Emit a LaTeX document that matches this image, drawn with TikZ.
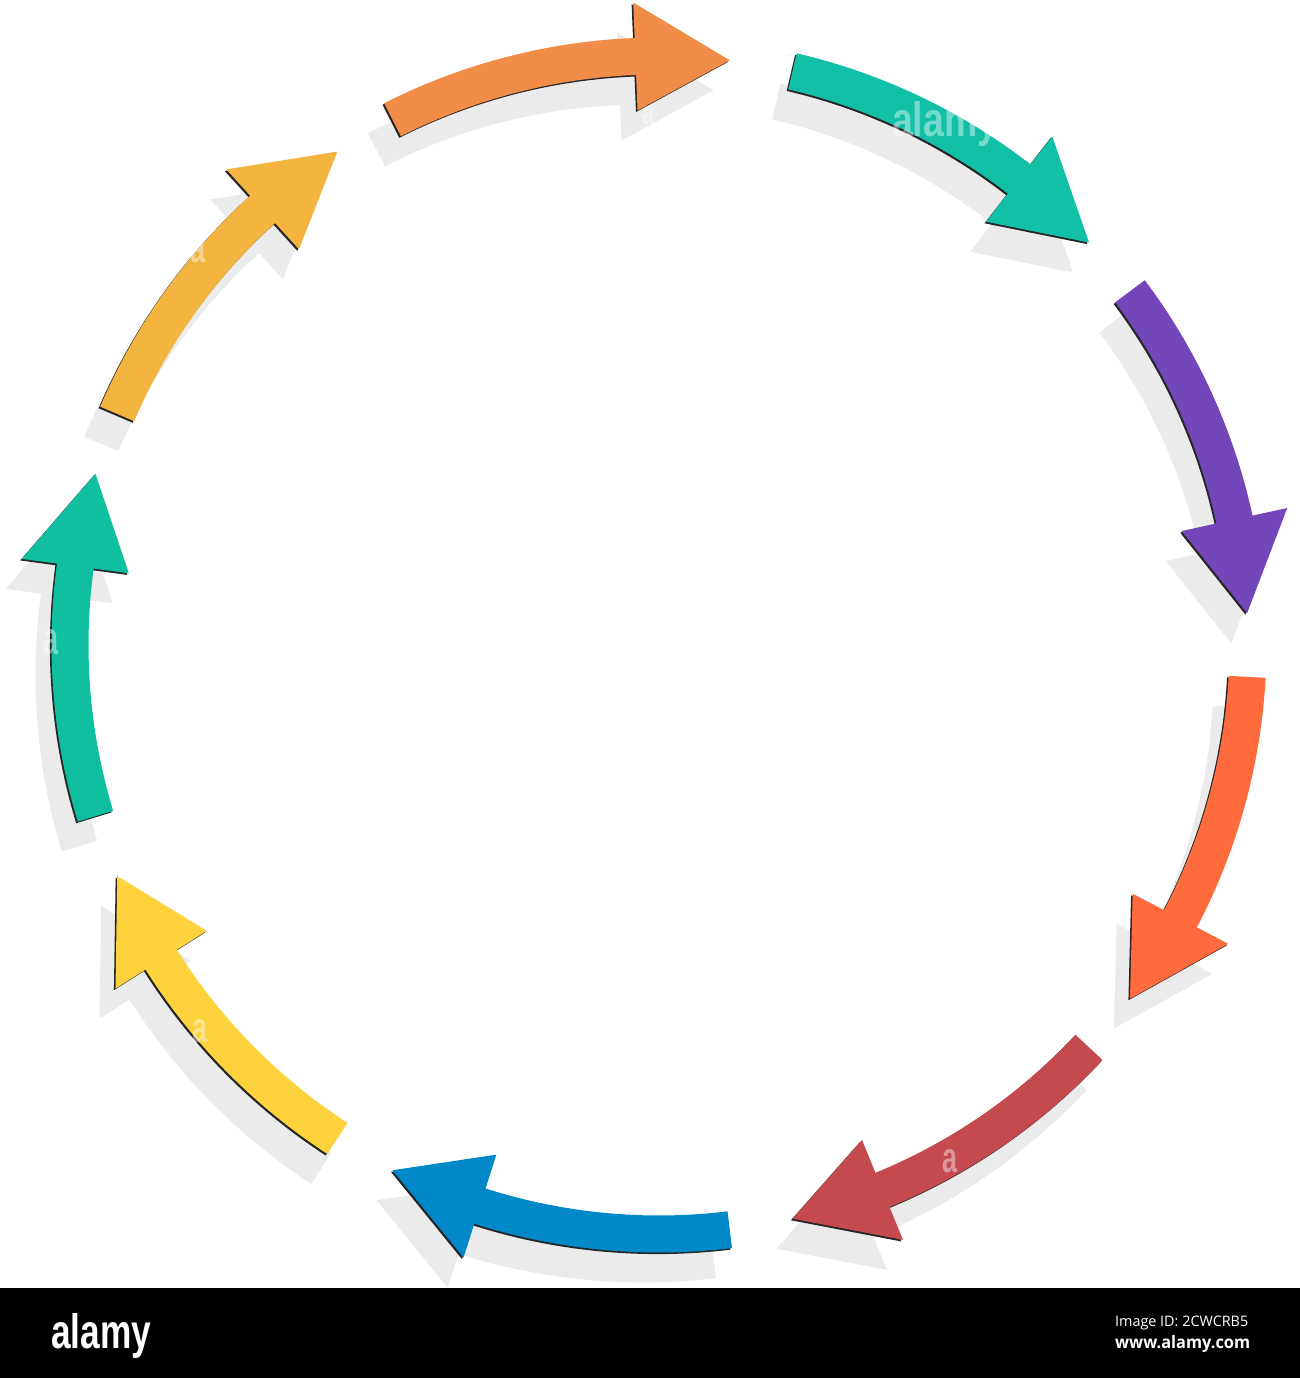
\documentclass[tikz,border=0pt]{standalone}
\usepackage{fontspec}
\setmainfont{Open Sans}
\newfontfamily\logofont{Liberation Sans}
\usepackage{graphicx}
\definecolor{cOrange}{HTML}{F18D49}
\definecolor{cTeal}{HTML}{12C0A8}
\definecolor{cPurple}{HTML}{7346B9}
\definecolor{cRedOrange}{HTML}{FF6B3D}
\definecolor{cDarkRed}{HTML}{C44A4E}
\definecolor{cBlue}{HTML}{0088C8}
\definecolor{cYellow}{HTML}{FDD23C}
\definecolor{cTealB}{HTML}{10BFA0}
\definecolor{cGold}{HTML}{F3B540}
\definecolor{shadowgray}{HTML}{EBEBEB}
% one curved arrow: #1 = tail angle, #2 = fill options
\newcommand\cyclearrow[2]{%
  \fill[#2] ({#1}:607.5pt) arc[start angle={#1}, end angle={#1-24.6}, radius=607.5pt]
    -- ({#1-24.6}:643pt) -- ({#1-33.8}:589pt) -- ({#1-24.6}:535pt)
    -- ({#1-24.6}:570.5pt) arc[start angle={#1-24.6}, end angle={#1}, radius=570.5pt] -- cycle;}
\tikzset{
  shadowstyle/.style={shadowgray, shift={(-16,-30)}},
  edgestyle/.style={black!85, shift={(-1.6,-1.6)}},
  wmark/.style={anchor=base west, inner sep=0pt, text=white, text opacity=0.42, font=\logofont\bfseries},
  bartext/.style={anchor=base west, inner sep=0pt, text=white}
}
\begin{document}
\begin{tikzpicture}[x=1pt,y=1pt]
\useasboundingbox (0,0) rectangle (1300,1378);
\fill[white] (0,0) rectangle (1300,1378);
\begin{scope}[shift={(659,733)}]
  \foreach \a in {116.9,76.9,36.9,-3.1,-43.1,-83.1,-123.1,-163.1,-203.1}
    {\cyclearrow{\a}{shadowstyle}}
  \foreach \a/\c in {116.9/cOrange,76.9/cTeal,36.9/cPurple,-3.1/cRedOrange,-43.1/cDarkRed,-83.1/cBlue,-123.1/cYellow,-163.1/cTealB,-203.1/cGold}
    {\cyclearrow{\a}{edgestyle}\cyclearrow{\a}{\c}}
\end{scope}
% faint watermark letters on the arrows
\node[wmark] (w1) at (892,1241) {\resizebox{106pt}{35pt}{alamy}};
\node[wmark] (w2) at (942,205) {\resizebox{15pt}{23pt}{a}};
\node[wmark] (w3) at (43,723) {\resizebox{15pt}{25pt}{a}};
\node[wmark] (w4) at (192,335) {\resizebox{15pt}{23pt}{a}};
\node[wmark] (w5) at (190,1115) {\resizebox{15pt}{23pt}{a}};
\node[wmark] (w6) at (642,1253) {\resizebox{12pt}{18pt}{a}};
% bottom bar
\fill[black] (0,0) rectangle (1300,90);
\node[bartext] (logo) at (51,30) {\resizebox{100pt}{35pt}{\logofont\bfseries alamy}};
\node[bartext] (imgid) at (1115,52) {\resizebox{133pt}{10.5pt}{Image ID: 2CWCRB5}};
\node[bartext] (url) at (1115,29) {\resizebox{135pt}{13pt}{\bfseries www.alamy.com}};
\end{tikzpicture}
\end{document}
